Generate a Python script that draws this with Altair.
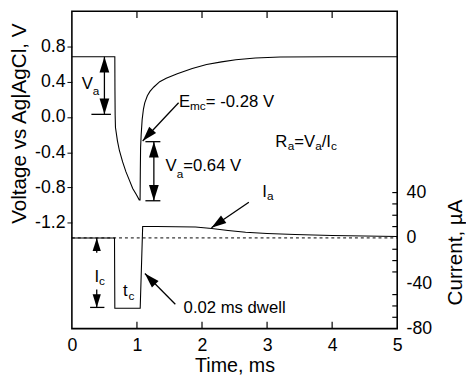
import altair as alt
import pandas as pd

# ---------------- data ----------------
# voltage trace (time in ms, potential in V vs Ag|AgCl)
v_time = [0.0, 0.655, 0.66, 0.662, 0.665, 0.67, 0.70, 0.73, 0.78, 0.83, 0.88, 0.935, 0.99, 1.035,
          1.048, 1.052, 1.056, 1.065, 1.08, 1.10, 1.12, 1.16, 1.20, 1.26, 1.35, 1.45, 1.62, 1.85,
          2.07, 2.30, 2.52, 2.82, 3.20, 4.00, 5.00]
v_volt = [0.683, 0.683, 0.683, 0.30, 0.02, -0.12, -0.27, -0.38, -0.51, -0.62, -0.71, -0.81, -0.88, -0.94,
          -0.94, -0.60, -0.35, -0.20, -0.03, 0.09, 0.16, 0.24, 0.29, 0.34, 0.40, 0.44, 0.49, 0.55,
          0.595, 0.625, 0.65, 0.668, 0.68, 0.683, 0.683]

# current trace (time in ms, current in uA)
c_time = [0.0, 0.655, 0.66, 1.05, 1.088, 1.3, 1.6, 1.9, 2.15, 2.4, 2.67, 3.0, 3.43, 4.0, 4.5, 5.0]
c_curr = [0.0, 0.0, -62.0, -62.0, 10.0, 10.0, 9.9, 9.6, 8.3, 6.6, 5.0, 3.9, 3.0, 2.2, 1.7, 1.3]

# axis settings
x_domain = [0, 5]
v_domain = [-2.4, 1.2]
c_domain = [-80, 200]
x_ticks = [0, 1, 2, 3, 4, 5]
v_ticks = [0.8, 0.4, 0.0, -0.4, -0.8, -1.2]
c_ticks = [-80, -40, 0, 40]
c_minor = [-70, -60, -50, -30, -20, -10, 10, 20, 30, 40]
x_inner_ticks = [1, 2, 3, 4]

# annotation segments in voltage units
va_seg_t1 = [0.50, 0.30, 1.26, 1.13, 1.13, 1.64]
va_seg_v1 = [0.683, 0.03, -0.28, -0.28, -0.95, 0.162]
va_seg_t2 = [0.50, 0.60, 1.26, 1.36, 1.36, 1.088]
va_seg_v2 = [0.03, 0.03, -0.95, -0.28, -0.95, -0.272]
# arrowheads in voltage units (tip position, direction angle)
vh_t = [0.50, 0.50, 1.26, 1.26, 1.088]
vh_v = [0.683, 0.03, -0.28, -0.95, -0.272]
vh_angle = [0, 180, 0, 180, 222]
vh_size = [256, 256, 256, 256, 230]

# annotation segments in current units
cs_t1 = [0.382, 0.382, 0.28, 2.72, 1.59]
cs_c1 = [0.0, -45.6, -61.3, 31.4, -58.5]
cs_t2 = [0.382, 0.382, 0.50, 2.145, 1.122]
cs_c2 = [-13.0, -61.3, -61.3, 9.0, -31.4]
ch_t = [0.382, 0.382, 2.145, 1.122]
ch_c = [0.0, -61.3, 9.0, -31.4]
ch_angle = [0, 180, 235, 316]
ch_size = [180, 180, 230, 230]

# labels (placed in voltage units; subscripts as smaller text)
lab_text = ["V", "a",
            "E", "mc", "= -0.28 V",
            "R", "a", "=V", "a", "/I", "c",
            "V", "a", "=0.64 V",
            "I", "a",
            "I", "c",
            "t", "c",
            "0.02 ms dwell"]
lab_t = [0.151, 0.322,
         1.647, 1.815, 2.059,
         3.127, 3.316, 3.417, 3.739, 3.840, 3.983,
         1.44, 1.610, 1.711,
         2.926, 2.997,
         0.347, 0.418,
         0.785, 0.87,
         1.717]
lab_v = [0.321, 0.246,
         0.115, 0.083, 0.115,
         -0.343, -0.380, -0.343, -0.380, -0.343, -0.380,
         -0.615, -0.687, -0.615,
         -0.904, -0.940,
         -1.869, -1.90,
         -2.025, -2.072,
         -2.224]
lab_size = [17, 12,
            17, 12, 17,
            17, 12, 17, 12, 17, 12,
            17, 12, 17,
            17, 12,
            17, 12,
            17, 12,
            17]

FONT = "Liberation Sans"
W, H = 331, 323
ARROW = "M0,0L0.62,2L-0.62,2Z"

# ---------------- tables ----------------
dfV = pd.DataFrame({"t": v_time, "v": v_volt, "i": range(len(v_time))})
dfC = pd.DataFrame({"t": c_time, "c": c_curr, "i": range(len(c_time))})
dfVS = pd.DataFrame({"t": va_seg_t1, "v": va_seg_v1, "t2": va_seg_t2, "v2": va_seg_v2})
dfVH = pd.DataFrame({"t": vh_t, "v": vh_v, "a": vh_angle, "s": vh_size})
dfCS = pd.DataFrame({"t": cs_t1, "c": cs_c1, "t2": cs_t2, "c2": cs_c2})
dfCH = pd.DataFrame({"t": ch_t, "c": ch_c, "a": ch_angle, "s": ch_size})
dfL = pd.DataFrame({"txt": lab_text, "t": lab_t, "v": lab_v, "fs": lab_size})
dfXT = pd.DataFrame({"t": x_inner_ticks})
dfCM = pd.DataFrame({"c": c_minor})
dfZ = pd.DataFrame({"t": [x_domain[0]], "t2": [x_domain[1]], "c": [0.0]})

# shared scale / axis definitions (identical on every layer so they merge)
x_scale = alt.Scale(domain=x_domain, nice=False, zero=False)
v_scale = alt.Scale(domain=v_domain, nice=False, zero=False)
c_scale = alt.Scale(domain=c_domain, nice=False, zero=False)

x_axis = alt.Axis(title="Time, ms", values=x_ticks, format="d", ticks=False, tickSize=0,
                  labelPadding=8, domain=False, grid=False, labelFlush=False,
                  titleFontSize=20, titleBaseline="alphabetic", titleY=44)
v_axis = alt.Axis(title="Voltage vs Ag|AgCl, V", orient="left", values=v_ticks,
                  labelExpr="replace(format(datum.value, '.1f'), '\u2212', '-')",
                  tickSize=5, tickColor="black", labelPadding=2, domain=False, grid=False,
                  titlePadding=5, titleFontSize=21, titleY=114)
c_axis = alt.Axis(title="Current, \u00b5A", orient="right", values=c_ticks,
                  labelExpr="replace(format(datum.value, 'd'), '\u2212', '-')",
                  ticks=False, tickSize=0, labelPadding=9, domain=False, grid=False,
                  titlePadding=13, titleFontSize=21, titleAngle=270, titleBaseline="top",
                  titleY=245)


def XS(f="t"):
    return alt.X(f, type="quantitative", scale=x_scale, axis=x_axis)


def YV(f="v"):
    return alt.Y(f, type="quantitative", scale=v_scale, axis=v_axis)


def YC(f="c"):
    return alt.Y(f, type="quantitative", scale=c_scale, axis=c_axis)


# ---------------- voltage layer ----------------
volt_line = alt.Chart(dfV).mark_line(color="black", strokeWidth=1.1).encode(
    x=XS("t"), y=YV("v"), order=alt.Order("i:Q"))

volt_segs = alt.Chart(dfVS).mark_rule(color="black", strokeWidth=1.3).encode(
    x=XS("t"), y=YV("v"), x2=alt.X2("t2"), y2=alt.Y2("v2"))

volt_heads = alt.Chart(dfVH).mark_point(shape=ARROW, filled=True, color="black", opacity=1,
                                        strokeWidth=0).encode(
    x=XS("t"), y=YV("v"), angle=alt.Angle("a:Q", scale=None), size=alt.Size("s:Q", scale=None))

labels = alt.Chart(dfL).mark_text(align="left", baseline="alphabetic", font=FONT, color="black").encode(
    x=XS("t"), y=YV("v"), text="txt:N", size=alt.Size("fs:Q", scale=None))

bottom_ticks = alt.Chart(dfXT).mark_rule(color="black", strokeWidth=1.2).encode(
    x=XS("t"), y=alt.value(H), y2=alt.value(H - 7))
top_ticks = alt.Chart(dfXT).mark_rule(color="black", strokeWidth=1.2).encode(
    x=XS("t"), y=alt.value(0), y2=alt.value(7))

volt_layer = alt.layer(volt_line, volt_segs, volt_heads, labels, bottom_ticks, top_ticks)

# ---------------- current layer ----------------
cur_line = alt.Chart(dfC).mark_line(color="black", strokeWidth=1.1).encode(
    x=XS("t"), y=YC("c"), order=alt.Order("i:Q"))

zero_line = alt.Chart(dfZ).mark_rule(color="black", strokeWidth=1, strokeDash=[3, 3]).encode(
    x=XS("t"), x2=alt.X2("t2"), y=YC("c"))

cur_segs = alt.Chart(dfCS).mark_rule(color="black", strokeWidth=1.3).encode(
    x=XS("t"), y=YC("c"), x2=alt.X2("t2"), y2=alt.Y2("c2"))

cur_heads = alt.Chart(dfCH).mark_point(shape=ARROW, filled=True, color="black", opacity=1,
                                       strokeWidth=0).encode(
    x=XS("t"), y=YC("c"), angle=alt.Angle("a:Q", scale=None), size=alt.Size("s:Q", scale=None))

right_ticks = alt.Chart(dfCM).mark_rule(color="black", strokeWidth=1.2).encode(
    x=alt.value(W), x2=alt.value(W - 5), y=YC("c"))

cur_layer = alt.layer(cur_line, zero_line, cur_segs, cur_heads, right_ticks)

chart = (
    alt.layer(volt_layer, cur_layer)
    .resolve_scale(y="independent")
    .properties(width=W, height=H,
                padding={"left": 65, "top": 0, "right": 70, "bottom": 46},
                autosize=alt.AutoSizeParams(type="none"))
    .configure(font=FONT)
    .configure_view(stroke="black", strokeWidth=1.6)
    .configure_axis(labelFont=FONT, titleFont=FONT, labelFontSize=18, labelColor="black",
                    titleColor="black", titleFontWeight="normal")
)

chart.save("out.html", embed_options={"renderer": "svg", "actions": False})
